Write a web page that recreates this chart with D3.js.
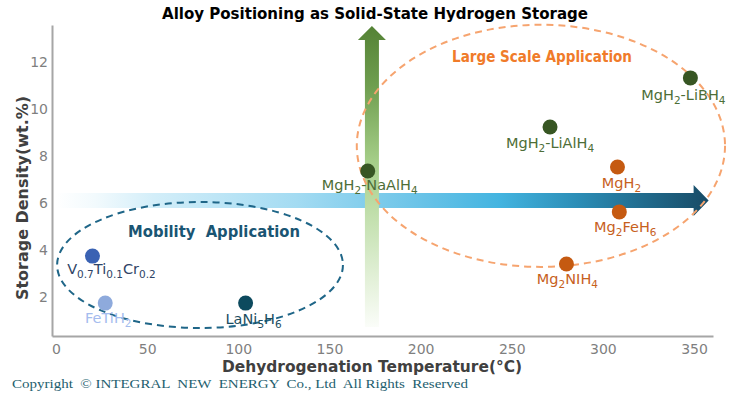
<!DOCTYPE html>
<html><head><meta charset="utf-8">
<script src="https://cdn.jsdelivr.net/npm/d3@7"></script>
<style>body{margin:0;background:#fff}svg{display:block}</style>
</head><body><svg id="c" width="739" height="402"></svg>
<script>
// ---------- data ----------
const alloys = ["V_{0.7}Ti_{0.1}Cr_{0.2}", "FeTiH_{2}", "LaNi_{5}H_{6}", "MgH_{2}-NaAlH_{4}", "MgH_{2}-LiAlH_{4}", "MgH_{2}-LiBH_{4}", "MgH_{2}", "Mg_{2}FeH_{6}", "Mg_{2}NIH_{4}"];
const temperature = [20, 27, 104, 171, 271, 348, 308, 309, 280];
const density = [3.74, 1.74, 1.74, 7.36, 9.23, 11.32, 7.53, 5.62, 3.40];
const family = ["vti", "feti", "lani", "complex", "complex", "complex", "mg", "mg", "mg"];
const xTicks = [0, 50, 100, 150, 200, 250, 300, 350];
const yTicks = [2, 4, 6, 8, 10, 12];
const regionNames = ["Large Scale Application", "Mobility  Application"];
const regionCx = [266, 79];
const regionCy = [8.43, 3.36];
const regionRx = [101, 78.4];
const regionRy = [5.15, 2.68];

// ---------- styles / layout ----------
const pointColor = {vti:"#3a62b3", feti:"#8eaadc", lani:"#0d4a5e", complex:"#375623", mg:"#c55a11"};
const labelColor = {vti:"#2e4466", feti:"#a4bcee", lani:"#1c4d60", complex:"#4d6e37", mg:"#c7611d"};
const labelDx = [19, 3, 8, 2, 0, -7, 4, 6, 1];
const labelDy = [18, 20, 21, 19, 21, 22, 21, 20, 20];
const regionStroke = ["#f6a46f", "#1f6688"];
const regionText = ["#f07b2a", "#1a5573"];
const regionTextPos = [[542, 62, 180], [214, 237, 172]];

const svg = d3.select("#c");
const x = d3.scaleLinear().domain([-2.2, 360.4]).range([52, 713]);
const y = d3.scaleLinear().domain([0.34, 13.57]).range([336, 25]);
const FONT = "'DejaVu Sans', Verdana, sans-serif";

const defs = svg.append("defs");
const hg = defs.append("linearGradient").attr("id","hg").attr("gradientUnits","userSpaceOnUse")
  .attr("x1", x(0)).attr("x2", x(358)).attr("y1",0).attr("y2",0);
[[0,"#ffffff"],[0.06,"#f2fafd"],[0.15,"#d3eef9"],[0.37,"#a3dbf2"],[0.55,"#6cc4e8"],[0.68,"#43b4e0"],[0.8,"#2b8db6"],[0.9,"#216b8d"],[1,"#184b66"]]
  .forEach(s => hg.append("stop").attr("offset", s[0]).attr("stop-color", s[1]));
const vg = defs.append("linearGradient").attr("id","vg").attr("gradientUnits","userSpaceOnUse")
  .attr("x1",0).attr("x2",0).attr("y1", y(13.53)).attr("y2", y(0.72));
[[0,"#548235"],[0.2,"#6f9e4f"],[0.45,"#a5ce88"],[0.65,"#c5e1b1"],[0.85,"#e4f1da"],[1,"#fbfdf9"]]
  .forEach(s => vg.append("stop").attr("offset", s[0]).attr("stop-color", s[1]));

// ---------- axes ----------
const gx = svg.append("g").attr("transform", `translate(0,${y.range()[0]})`)
  .call(d3.axisBottom(x).tickValues(xTicks).tickSize(0).tickPadding(8));
const gy = svg.append("g").attr("transform", `translate(${x.range()[0]},0)`)
  .call(d3.axisLeft(y).tickValues(yTicks).tickSize(0).tickPadding(4));
[gx, gy].forEach(g => {
  g.select(".domain").attr("stroke", "#a6a6a6").attr("stroke-width", 2);
  g.selectAll("text").attr("fill", "#7f7f7f").attr("font-family", FONT).attr("font-size", 14);
});
gx.selectAll("text").attr("dy", "0.74em");

// ---------- arrows ----------
const hy = y(6.1), hx0 = x(0) - 1, hx1 = x(358);
svg.append("path").attr("fill", "url(#hg)")
  .attr("d", `M${hx0},${hy-7.5} L${hx1-15},${hy-7.5} L${hx1-15},${hy-15.5} L${hx1},${hy} L${hx1-15},${hy+15.5} L${hx1-15},${hy+7.5} L${hx0},${hy+7.5} Z`);
const vx = x(173.3), vy0 = y(0.72), vy1 = y(13.53);
svg.append("path").attr("fill", "url(#vg)")
  .attr("d", `M${vx-7},${vy0} L${vx-7},${vy1+14} L${vx-14},${vy1+14} L${vx},${vy1} L${vx+14},${vy1+14} L${vx+7},${vy1+14} L${vx+7},${vy0} Z`);

// ---------- regions ----------
regionNames.forEach((n, i) => {
  svg.append("ellipse")
    .attr("cx", x(regionCx[i])).attr("cy", y(regionCy[i]))
    .attr("rx", x(regionCx[i] + regionRx[i]) - x(regionCx[i]))
    .attr("ry", y(regionCy[i] - regionRy[i]) - y(regionCy[i]))
    .attr("fill", "none").attr("stroke", regionStroke[i]).attr("stroke-width", 2)
    .attr("stroke-dasharray", "7,5");
  svg.append("text").attr("x", regionTextPos[i][0]).attr("y", regionTextPos[i][1])
    .attr("text-anchor", "middle").attr("font-family", FONT).attr("font-weight", "bold")
    .attr("font-size", 16).attr("fill", regionText[i]).style("white-space", "pre")
    .attr("textLength", regionTextPos[i][2]).attr("lengthAdjust", "spacingAndGlyphs")
    .text(n);
});

// ---------- points ----------
const pts = alloys.map((a, i) => ({a, t: temperature[i], d: density[i], f: family[i], i}));
svg.append("g").selectAll("circle").data(pts).join("circle")
  .attr("cx", d => x(d.t)).attr("cy", d => y(d.d)).attr("r", 7.5)
  .attr("fill", d => pointColor[d.f]);

function addRich(sel, str, size, subSize) {
  const parts = str.split(/(_\{[^}]*\})/).filter(s => s.length);
  let sub = false;
  parts.forEach(p => {
    if (p.startsWith("_{")) {
      sel.append("tspan").attr("font-size", subSize).attr("dy", sub ? 0 : 4).text(p.slice(2, -1));
      sub = true;
    } else {
      sel.append("tspan").attr("font-size", size).attr("dy", sub ? -4 : 0).text(p);
      sub = false;
    }
  });
}
const labels = svg.append("g").selectAll("text").data(pts).join("text")
  .attr("x", d => x(d.t) + labelDx[d.i]).attr("y", d => y(d.d) + labelDy[d.i])
  .attr("text-anchor", "middle").attr("font-family", FONT)
  .attr("fill", d => labelColor[d.f]);
labels.each(function(d){ addRich(d3.select(this), d.a, 14.5, 10.5); });

// ---------- titles ----------
svg.append("text").attr("x", 375).attr("y", 19).attr("text-anchor", "middle")
  .attr("font-family", FONT).attr("font-weight", "bold").attr("font-size", 16).attr("fill", "#000")
  .attr("textLength", 426).attr("lengthAdjust", "spacingAndGlyphs")
  .text("Alloy Positioning as Solid-State Hydrogen Storage");
svg.append("text").attr("x", 372).attr("y", 372).attr("text-anchor", "middle")
  .attr("font-family", FONT).attr("font-weight", "bold").attr("font-size", 16).attr("fill", "#404040")
  .attr("textLength", 300).attr("lengthAdjust", "spacingAndGlyphs")
  .text("Dehydrogenation Temperature(°C)");
svg.append("text").attr("transform", "translate(28,198) rotate(-90)").attr("text-anchor", "middle")
  .attr("font-family", FONT).attr("font-weight", "bold").attr("font-size", 16.5).attr("fill", "#404040")
  .attr("textLength", 204).attr("lengthAdjust", "spacingAndGlyphs")
  .text("Storage Density(wt.%)");
svg.append("text").attr("x", 12).attr("y", 388)
  .attr("font-family", "'Liberation Serif', 'Times New Roman', serif").attr("font-size", 12.8)
  .attr("fill", "#1d5e6e").style("white-space", "pre")
  .attr("textLength", 456).attr("lengthAdjust", "spacingAndGlyphs")
  .text("Copyright  © INTEGRAL  NEW  ENERGY  Co., Ltd  All Rights  Reserved");
</script></body></html>
